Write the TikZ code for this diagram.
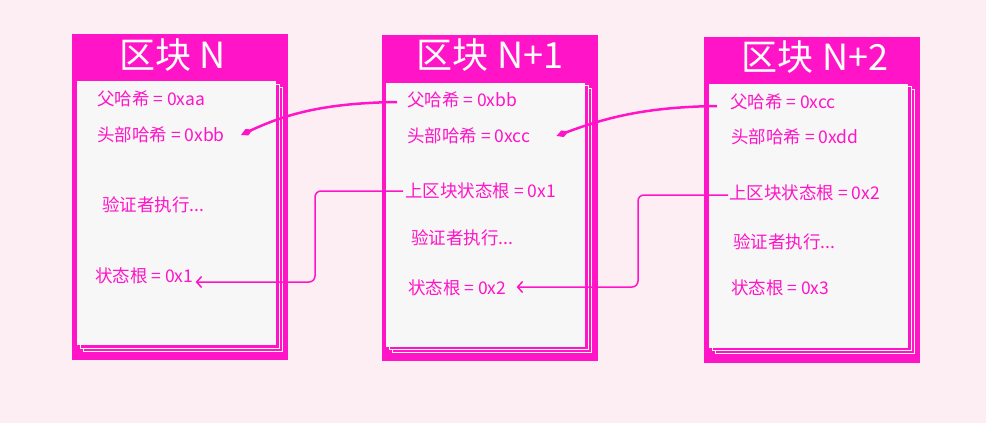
\documentclass[tikz,border=0pt]{standalone}
\usepackage{fontspec}
\setmainfont{Noto Sans CJK SC}
\usepackage{xcolor}
\usepackage{tikz}
\usetikzlibrary{arrows,arrows.meta,shadows}
\definecolor{blockpink}{RGB}{255,20,200}
\definecolor{sheetgray}{RGB}{247,247,247}
\definecolor{backpink}{RGB}{253,238,244}

\begin{document}
\begin{tikzpicture}[x=1pt,y=-1pt]
    \tikzstyle{blockframe}=[fill=blockpink, minimum width=216pt, minimum height=326pt, inner sep=0pt]
    \tikzstyle{sheet}=[fill=sheetgray, minimum width=199pt, minimum height=264pt, inner sep=0pt,
        double copy shadow={shadow xshift=3pt, shadow yshift=-3pt, fill=blockpink, draw=white, line width=1pt}]
    \tikzstyle{blocktitle}=[text=white, inner sep=0pt, font=\fontsize{36}{40}\selectfont]
    \tikzstyle{fieldtext}=[text=blockpink, anchor=west, inner sep=0pt, font=\fontsize{17.5}{20}\selectfont]
    \tikzstyle{hashlink}=[draw=blockpink, line width=2.5pt, -{Diamond[length=13pt,width=7pt]}]
    \tikzstyle{rootlink}=[draw=blockpink, line width=1.5pt, rounded corners=6pt, -{Straight Barb[length=5pt,width=11pt]}]
\useasboundingbox (0,0) rectangle (986,423);
\fill[backpink] (0,0) rectangle (986,423);
% block N
\node[blockframe] (blkN0) at (180,196.5) {};
\node[sheet] (pageN0) at (176.5,213) {};
\node[blocktitle] (titleN0) at (173,55) {区块 N};
\node[fieldtext] (N0par) at (97,99) {父哈希 = 0xaa};
\node[fieldtext] (N0head) at (97,135) {头部哈希 = 0xbb};
\node[fieldtext] (N0exec) at (102,205) {验证者执行...};
\node[fieldtext] (N0root) at (95,276) {状态根 = 0x1};
% block N+1
\node[blockframe] (blkN1) at (490,197.5) {};
\node[sheet] (pageN1) at (485.5,214.5) {};
\node[blocktitle] (titleN1) at (490,55) {区块 N+1};
\node[fieldtext] (N1par) at (407,100) {父哈希 = 0xbb};
\node[fieldtext] (N1head) at (407,136) {头部哈希 = 0xcc};
\node[fieldtext] (N1prev) at (405,191) {上区块状态根 = 0x1};
\node[fieldtext] (N1exec) at (411,238) {验证者执行...};
\node[fieldtext] (N1root) at (408,288) {状态根 = 0x2};
% block N+2
\node[blockframe] (blkN2) at (812,200) {};
\node[sheet] (pageN2) at (808.5,215.5) {};
\node[blocktitle] (titleN2) at (815,57) {区块 N+2};
\node[fieldtext] (N2par) at (730,102) {父哈希 = 0xcc};
\node[fieldtext] (N2head) at (731,137) {头部哈希 = 0xdd};
\node[fieldtext] (N2prev) at (729,193) {上区块状态根 = 0x2};
\node[fieldtext] (N2exec) at (733,242) {验证者执行...};
\node[fieldtext] (N2root) at (731,288) {状态根 = 0x3};
% links
\draw[hashlink] ([xshift=-10pt,yshift=-2pt]N1par.west) .. controls (330,103) and (290,112) .. ([xshift=16pt]N0head.east);
\draw[hashlink] ([xshift=-13pt,yshift=-4pt]N2par.west) .. controls (650,107) and (610,116) .. ([xshift=26pt]N1head.east);
\draw[rootlink] ([xshift=-2pt]N1prev.west) -- ++(-88,0) |- ([xshift=2pt,yshift=-6pt]N0root.east);
\draw[rootlink] ([xshift=-1pt,yshift=-2pt]N2prev.west) -- ++(-90,0) |- ([xshift=10pt,yshift=1pt]N1root.east);
\end{tikzpicture}
\end{document}
